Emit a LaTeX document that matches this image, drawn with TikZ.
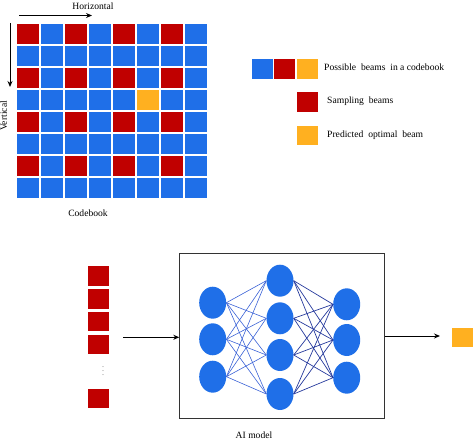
\documentclass[tikz,border=0pt]{standalone}
\usepackage{fontspec}
\setmainfont{Liberation Serif}
\usetikzlibrary{arrows.meta,shapes.geometric}
\definecolor{bblue}{HTML}{1F6FE8}
\definecolor{bred}{HTML}{C00000}
\definecolor{borange}{HTML}{FFB020}
\definecolor{linkA}{HTML}{3A62D6}
\definecolor{linkB}{HTML}{25399C}
\tikzset{
  cell/.style={draw=none,minimum width=22pt,minimum height=20pt,inner sep=0pt,outer sep=0pt,anchor=north west},
  lab/.style={font=\fontsize{9.6}{10}\selectfont,inner sep=0pt},
  neuron/.style={ellipse,fill=bblue,draw=none,minimum width=27pt,minimum height=32pt,inner sep=0pt},
  arr/.style={-{Stealth[length=6pt,width=5pt]},line width=0.9pt},
  linka/.style={linkA,line width=0.6pt},
  linkb/.style={linkB,line width=0.7pt}
}
\begin{document}
\begin{tikzpicture}[x=1pt,y=-1pt]
\useasboundingbox (0,0) rectangle (474,441);
% codebook grid
\foreach \r in {0,...,7}{
  \foreach \k in {0,...,7}{
    \pgfmathtruncatemacro{\isred}{(mod(\r,2)==0 && mod(\k,2)==0) ? 1 : 0}
    \pgfmathtruncatemacro{\isor}{(\r==3 && \k==5) ? 1 : 0}
    \ifnum\isor=1 \def\cc{borange}\else\ifnum\isred=1 \def\cc{bred}\else\def\cc{bblue}\fi\fi
    \node[cell,fill=\cc] (g\r\k) at ({17+\k*24},{24+\r*22}) {};
  }
}
\node[lab] (hlab) at (93,6) {Horizontal};
\coordinate (hs) at (19,15.5);
\coordinate (he) at (92,15.5);
\draw[arr] (hs) -- (he);
\coordinate (vs) at (10,23);
\coordinate (ve) at (10,87);
\draw[arr] (vs) -- (ve);
\node[lab,rotate=90] (vlab) at (3.5,116) {Vertical};
\node[lab] (cb) at (88,213) {Codebook};
% legend
\node[cell,fill=bblue,minimum width=21.5pt,minimum height=20pt] (l1) at (251.7,59) {};
\node[cell,fill=bred,minimum width=21.5pt,minimum height=20pt] (l2) at (273.7,59) {};
\node[cell,fill=borange,minimum width=21.5pt,minimum height=20pt] (l3) at (296.7,59) {};
\node[lab,anchor=west] (t1) at (324,67) {Possible\ \ beams\ \ in a codebook};
\node[cell,fill=bred,minimum width=21.5pt,minimum height=19.5pt] (l4) at (296.7,92.3) {};
\node[lab,anchor=west] (t2) at (327,101.5) {Sampling\ \ beams};
\node[cell,fill=borange,minimum width=21.5pt,minimum height=19.5pt] (l5) at (296.7,126) {};
\node[lab,anchor=west] (t3) at (327,135.5) {Predicted\ \ optimal\ \ beam};
% input column
\foreach \y [count=\i] in {266,289,311.7,334.7,388.7}{
  \node[cell,fill=bred,minimum width=21.3pt,minimum height=19.5pt] (in\i) at (88,\y) {};
}
\node[inner sep=0pt,font=\fontsize{6}{6}\selectfont] (dots) at (103,368) {$\vdots$};
% AI model box
\node[draw=black!80,line width=0.8pt,minimum width=205pt,minimum height=165.6pt,inner sep=0pt,anchor=north west] (box) at (179.3,252.7) {};
\node[lab] (ailab) at (254,435) {AI model};
\coordinate (ia) at (123.3,337.3);
\draw[arr] (ia) -- (box.west |- ia);
\coordinate (oa) at (440,336);
\draw[arr] (box.east |- oa) -- (oa);
\node[cell,fill=borange,minimum width=21.6pt,minimum height=19.3pt] (out) at (451.7,328) {};
% neurons
\foreach \y [count=\i] in {302.7,339.3,376.7}{\node[neuron] (a\i) at (212.7,\y) {};}
\foreach \y [count=\i] in {280.7,318.3,355,394}{\node[neuron] (b\i) at (280,\y) {};}
\foreach \y [count=\i] in {304.3,340,377.7}{\node[neuron] (c\i) at (346.7,\y) {};}
\foreach \i in {1,2,3}{\foreach \j in {1,2,3,4}{\draw[linka] (a\i.east) -- (b\j.west);}}
\foreach \i in {1,2,3,4}{\foreach \j in {1,2,3}{\draw[linkb] (b\i.east) -- (c\j.west);}}
\end{tikzpicture}
\end{document}
